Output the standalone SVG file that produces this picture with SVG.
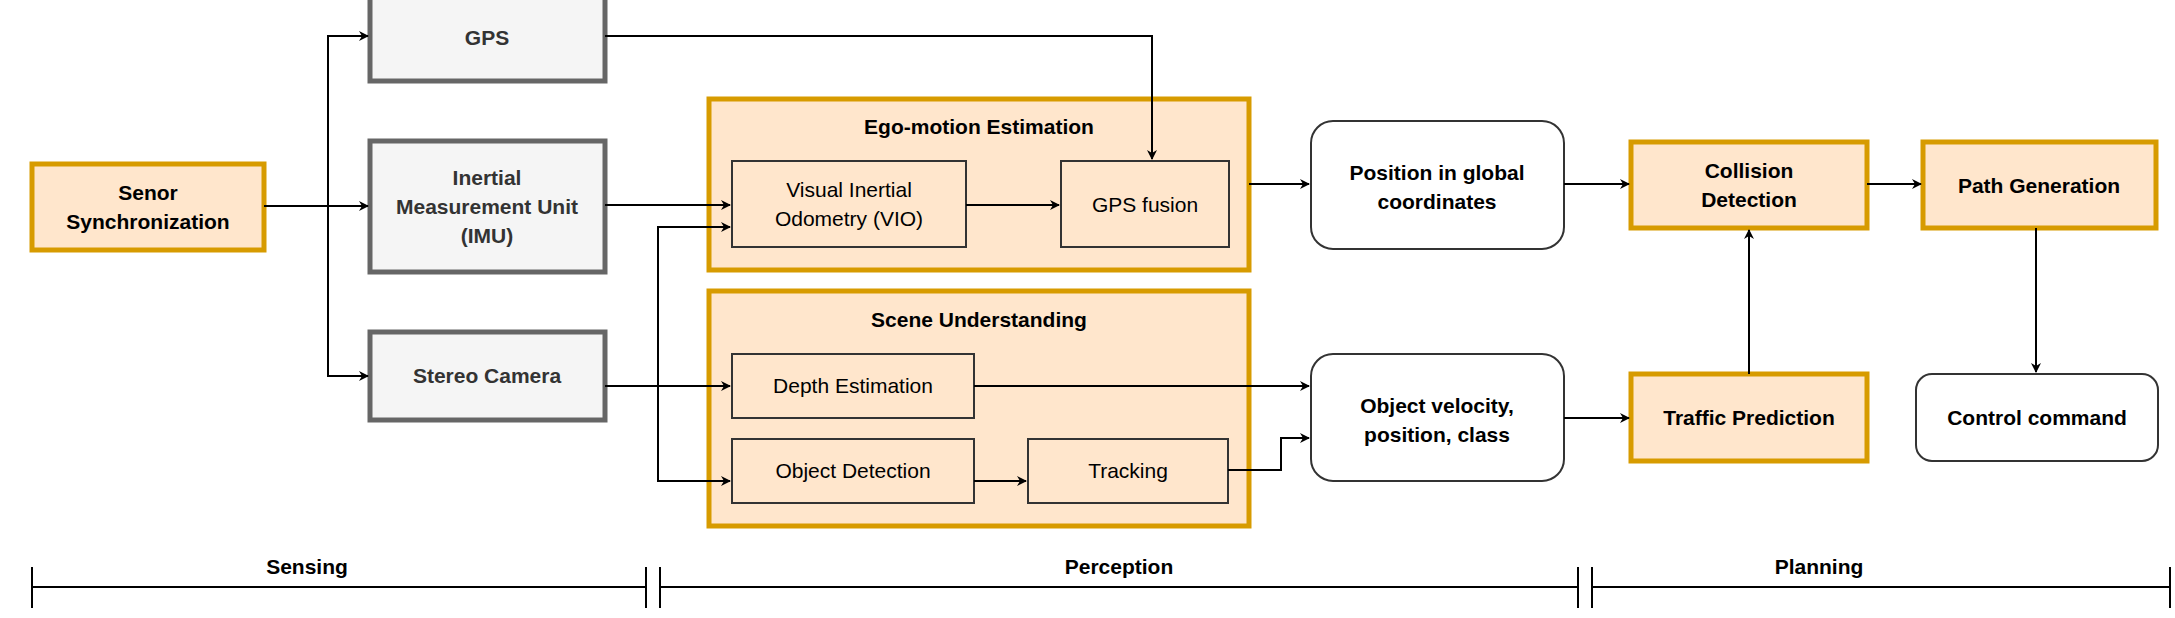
<svg xmlns="http://www.w3.org/2000/svg" width="2175" height="618" viewBox="0 0 2175 618">
<defs>
<marker id="a" markerWidth="10" markerHeight="10" refX="9" refY="5" orient="auto" markerUnits="userSpaceOnUse"><path d="M0,0 L10,5 L0,10 L3,5 Z" fill="#000"/></marker>
<style>
text{font-family:"Liberation Sans",Arial,sans-serif;font-size:21px;text-anchor:middle;fill:#000}
.b{font-weight:bold}
.or{fill:#ffe6cc;stroke:#d79b00;stroke-width:5}
.gr{fill:#f5f5f5;stroke:#666;stroke-width:5}
.in{fill:#ffe6cc;stroke:#333;stroke-width:2}
.wh{fill:#fff;stroke:#333;stroke-width:2}
.c{fill:none;stroke:#000;stroke-width:2;marker-end:url(#a)}
.t{fill:none;stroke:#000;stroke-width:2}
.gt{fill:#333}
</style>
</defs>
<rect width="2175" height="618" fill="#fff"/>
<g id="sync"><rect class="or" x="32" y="164" width="232" height="86"/><text class="b" x="148" y="200">Senor</text><text class="b" x="148" y="229">Synchronization</text></g>
<g id="gps"><rect class="gr" x="370" y="-10" width="235" height="91"/><text class="b gt" x="487" y="45">GPS</text></g>
<g id="imu"><rect class="gr" x="370" y="141" width="235" height="131"/><text class="b gt" x="487" y="185">Inertial</text><text class="b gt" x="487" y="214">Measurement Unit</text><text class="b gt" x="487" y="243">(IMU)</text></g>
<g id="stereo"><rect class="gr" x="370" y="332" width="235" height="88"/><text class="b gt" x="487" y="383">Stereo Camera</text></g>
<g id="ego"><rect class="or" x="709" y="99" width="540" height="171"/><text class="b" x="979" y="134">Ego-motion Estimation</text></g>
<g id="vio"><rect class="in" x="732" y="161" width="234" height="86"/><text x="849" y="197">Visual Inertial</text><text x="849" y="226">Odometry (VIO)</text></g>
<g id="gpsf"><rect class="in" x="1061" y="161" width="168" height="86"/><text x="1145" y="212">GPS fusion</text></g>
<g id="scene"><rect class="or" x="709" y="291" width="540" height="235"/><text class="b" x="979" y="327">Scene Understanding</text></g>
<g id="depth"><rect class="in" x="732" y="354" width="242" height="64"/><text x="853" y="393">Depth Estimation</text></g>
<g id="objdet"><rect class="in" x="732" y="439" width="242" height="64"/><text x="853" y="478">Object Detection</text></g>
<g id="track"><rect class="in" x="1028" y="439" width="200" height="64"/><text x="1128" y="478">Tracking</text></g>
<g id="pos"><rect class="wh" x="1311" y="121" width="253" height="128" rx="22"/><text class="b" x="1437" y="180">Position in global</text><text class="b" x="1437" y="209">coordinates</text></g>
<g id="objvel"><rect class="wh" x="1311" y="354" width="253" height="127" rx="22"/><text class="b" x="1437" y="413">Object velocity,</text><text class="b" x="1437" y="442">position, class</text></g>
<g id="coll"><rect class="or" x="1631" y="142" width="236" height="86"/><text class="b" x="1749" y="178">Collision</text><text class="b" x="1749" y="207">Detection</text></g>
<g id="path"><rect class="or" x="1923" y="142" width="233" height="86"/><text class="b" x="2039" y="193">Path Generation</text></g>
<g id="traffic"><rect class="or" x="1631" y="374" width="236" height="87"/><text class="b" x="1749" y="425">Traffic Prediction</text></g>
<g id="control"><rect class="wh" x="1916" y="374" width="242" height="87" rx="16"/><text class="b" x="2037" y="425">Control command</text></g>
<g id="connectors">
<path class="t" d="M264,206 H328"/>
<path class="c" d="M328,206 H368"/>
<path class="c" d="M328,206 V36 H368"/>
<path class="c" d="M328,206 V376 H368"/>
<path class="c" d="M605,36 H1152 V159"/>
<path class="c" d="M605,205 H730"/>
<path class="c" d="M605,386 H730"/>
<path class="c" d="M658,386 V227 H730"/>
<path class="c" d="M658,386 V481 H730"/>
<path class="c" d="M966,205 H1059"/>
<path class="c" d="M974,481 H1026"/>
<path class="c" d="M1249,184 H1309"/>
<path class="c" d="M974,386 H1309"/>
<path class="c" d="M1228,470 H1281 V438 H1309"/>
<path class="c" d="M1564,184 H1629"/>
<path class="c" d="M1564,418 H1629"/>
<path class="c" d="M1749,374 V230"/>
<path class="c" d="M1867,184 H1921"/>
<path class="c" d="M2036,228 V372"/>
</g>
<g id="timeline">
<path class="t" d="M32,587 H646 M32,567 V608 M646,567 V608 M660,587 H1578 M660,567 V608 M1578,567 V608 M1592,587 H2170 M1592,567 V608 M2170,567 V608"/>
<text class="b" x="307" y="574">Sensing</text>
<text class="b" x="1119" y="574">Perception</text>
<text class="b" x="1819" y="574">Planning</text>
</g>
</svg>
